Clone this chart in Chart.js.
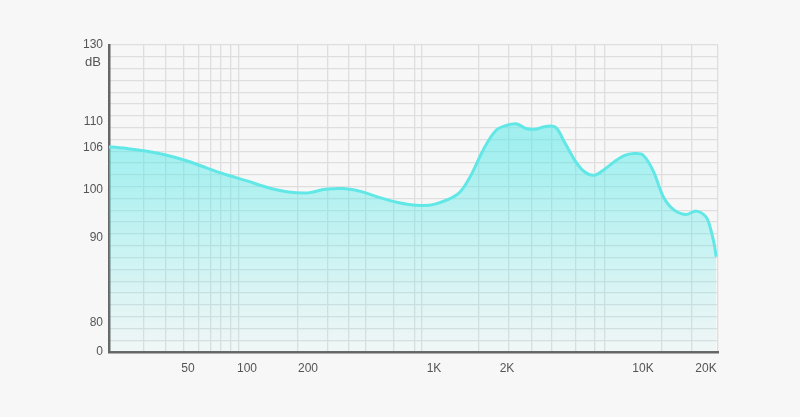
<!DOCTYPE html>
<html>
<head>
<meta charset="utf-8">
<script src="https://cdn.jsdelivr.net/npm/chart.js@4/dist/chart.umd.min.js"></script>
<style>
html,body{margin:0;padding:0;background:#f7f7f7;}
#wrap{width:800px;height:417px;}
</style>
</head>
<body>
<div id="wrap"><canvas id="c" width="800" height="417"></canvas></div>
<script>
// ---- data ----
const freqs = [20,25,30,40,50,63,80,100,125,160,200,250,315,400,500,630,800,1000,1250,1400,1600,1800,2000,2250,2500,2800,3150,3550,4000,4500,5000,5600,6300,7100,8000,9000,10000,11200,12500,14000,16000,18000,20000,21000,22000,22500];
const levels = [106.2,105.9,105.6,104.9,104.1,103.1,102.1,101.3,100.4,99.6,99.4,100.1,100.2,99.6,98.4,97.4,96.8,97.0,99.1,101.7,105.8,108.7,109.5,109.7,109.0,108.9,109.3,109.2,106.6,104.1,102.6,102.1,102.9,104.0,104.9,105.2,105.0,102.7,98.6,95.9,94.9,95.6,94.4,92.2,89.3,87.8];

const xTickValues = [50,100,200,1000,2000,10000,20000];
const xTickLabels = ['50','100','200','1K','2K','10K','20K'];
const yTickValues = [0,80,90,100,106,110,130];
const yTickLabels = ['0','80','90','100','106','110','130'];
const unitLabel = 'dB';
const gridFreqs = [30,38.6,47.3,56.5,65.5,73.7,82.6,90.3,178,257,338,418,600,778,854,1533,2031,2680,3394,4526,5669,6378,12280,17090,23000];
const gridRows = 26;

// ---- axis shape (value -> fraction of axis length) ----
const xBreaks = [[20,0],[50,0.1297],[100,0.2266],[200,0.3268],[1000,0.5337],[2000,0.6535],[10000,0.8768],[20000,0.9803],[23000,1]];
const yBreaks = [[0,0],[80,0.0945],[90,0.3713],[100,0.5277],[106,0.6645],[110,0.7492],[130,1]];
const SCALE_SHAPE = {
  x:  {breaks: xBreaks, log: true,  ticks: xTickValues},
  xg: {breaks: xBreaks, log: true,  ticks: gridFreqs},
  y:  {breaks: yBreaks, log: false, ticks: yTickValues}
};

class PiecewiseScale extends Chart.LinearScale {
  static id = 'piecewise';
  static defaults = Chart.LinearScale.defaults;
  _shape(){ return SCALE_SHAPE[this.id]; }
  determineDataLimits(){
    const b = this._shape().breaks;
    this.min = b[0][0]; this.max = b[b.length-1][0];
  }
  buildTicks(){ return this._shape().ticks.map(v => ({value: v})); }
  _t(v){ return this._shape().log ? Math.log(v) : v; }
  _frac(v){
    const b = this._shape().breaks;
    if (v <= b[0][0]) return b[0][1];
    for (let i = 1; i < b.length; i++) {
      if (v <= b[i][0]) {
        const a = b[i-1];
        return a[1] + (b[i][1]-a[1]) * (this._t(v)-this._t(a[0])) / (this._t(b[i][0])-this._t(a[0]));
      }
    }
    return b[b.length-1][1];
  }
  getPixelForValue(v){ return this.getPixelForDecimal(this._frac(v)); }
  getValueForPixel(p){
    const f = this.getDecimalForPixel(p);
    const b = this._shape().breaks, lg = this._shape().log;
    for (let i = 1; i < b.length; i++) {
      if (f <= b[i][1] || i === b.length-1) {
        const a = b[i-1];
        const r = (f - a[1]) / (b[i][1] - a[1]);
        const t0 = this._t(a[0]), t1 = this._t(b[i][0]);
        const t = t0 + r*(t1-t0);
        return lg ? Math.exp(t) : t;
      }
    }
  }
}
Chart.register(PiecewiseScale);

const FONT = 'Liberation Sans, Arial, Helvetica, sans-serif';
const TEXT = '#555555';
const GRID = '#dedede';
const AXIS = '#666666';

const unitPlugin = {
  id: 'unitLabel',
  afterDraw(chart){
    const s = chart.scales.y;
    const ctx = chart.ctx;
    ctx.save();
    ctx.font = '13px ' + FONT;
    ctx.fillStyle = TEXT;
    ctx.textAlign = 'right';
    ctx.textBaseline = 'middle';
    ctx.fillText(unitLabel, s.right - 8, s.getPixelForValue(130) + 17);
    ctx.restore();
  }
};

new Chart(document.getElementById('c'), {
  type: 'line',
  data: {
    datasets: [{
      data: freqs.map((f, i) => ({x: f, y: levels[i]})),
      borderColor: '#62e7e7',
      borderWidth: 3,
      pointRadius: 0,
      tension: 0.35,
      fill: 'start',
      backgroundColor: (c) => {
        const ca = c.chart.chartArea;
        if (!ca) return 'rgba(80,232,232,0.4)';
        const g = c.chart.ctx.createLinearGradient(0, ca.top, 0, ca.bottom);
        g.addColorStop(0, 'rgba(80,232,232,0.56)');
        g.addColorStop(0.34, 'rgba(80,232,232,0.5)');
        g.addColorStop(1, 'rgba(80,232,232,0.03)');
        return g;
      }
    }]
  },
  options: {
    responsive: false,
    devicePixelRatio: 1,
    animation: false,
    layout: {padding: {top: 45, right: 82, left: 0, bottom: 0}},
    plugins: {legend: {display: false}, tooltip: {enabled: false}},
    scales: {
      x: {
        type: 'piecewise', position: 'bottom', z: 1,
        grid: {display: false, drawTicks: false},
        border: {display: true, color: AXIS, width: 2.5},
        ticks: {
          autoSkip: false, maxRotation: 0, padding: 9,
          color: TEXT, font: {family: FONT, size: 12},
          callback: (v) => { const i = xTickValues.indexOf(v); return i >= 0 ? xTickLabels[i] : ''; }
        },
        afterFit: (s) => { s.height = 65; }
      },
      xg: {
        type: 'piecewise', position: 'top',
        grid: {display: true, color: GRID, lineWidth: 1.3, drawTicks: false},
        border: {display: false},
        ticks: {display: false}
      },
      y: {
        type: 'piecewise', position: 'left', z: 1,
        grid: {display: false, drawTicks: false},
        border: {display: true, color: AXIS, width: 2.5},
        ticks: {
          padding: 6, color: TEXT, font: {family: FONT, size: 12},
          callback: (v) => { const i = yTickValues.indexOf(v); return i >= 0 ? yTickLabels[i] : ''; }
        },
        afterFit: (s) => { s.width = 109; }
      },
      yg: {
        type: 'linear', position: 'right', min: 0, max: gridRows,
        grid: {display: true, color: GRID, lineWidth: 1.3, drawTicks: false},
        border: {display: false},
        ticks: {display: false, stepSize: 1}
      }
    }
  },
  plugins: [unitPlugin]
});
</script>
</body>
</html>
